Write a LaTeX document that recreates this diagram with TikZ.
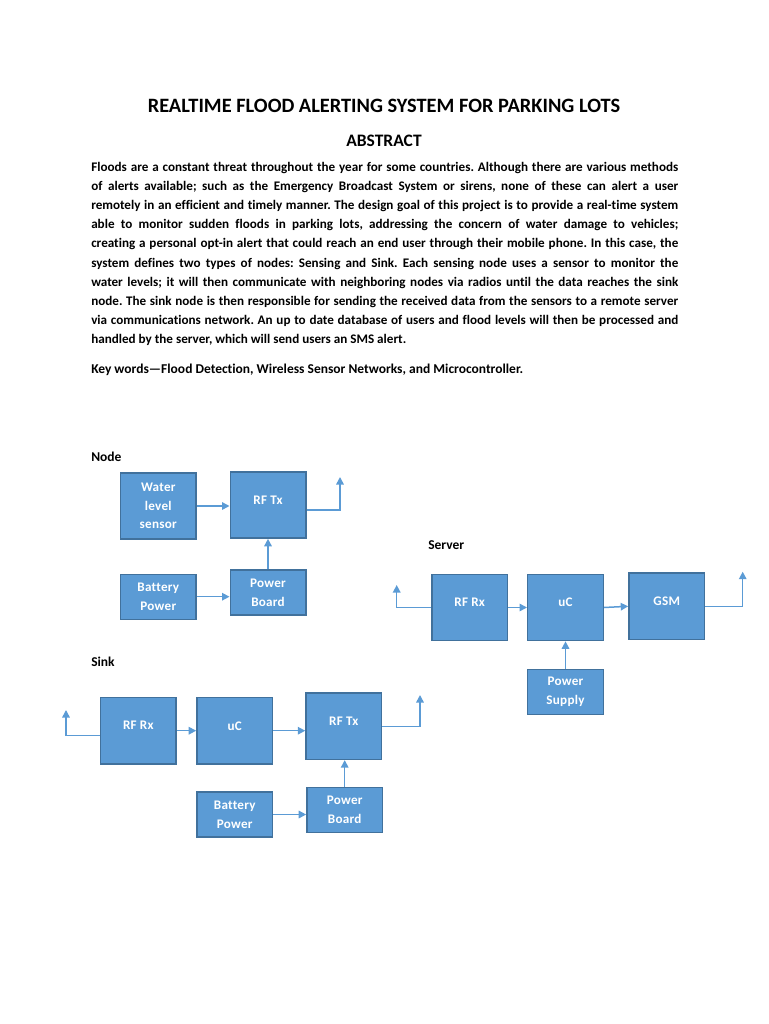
\documentclass[tikz,border=0pt]{standalone}
\usepackage{fontspec}
\setmainfont{Carlito}[Ligatures=NoCommon]
\usetikzlibrary{positioning,arrows.meta}

\definecolor{boxblue}{HTML}{5B9BD5}
\definecolor{boxedge}{HTML}{41719C}

\begin{document}
\frenchspacing
\begin{tikzpicture}[x=0.8pt, y=-0.8pt,
    block/.style={draw=boxedge, fill=boxblue, line width=1.1pt, inner sep=0pt,
        minimum width=60.5pt, text=white, align=center,
        font=\bfseries\fontsize{10.5}{15}\selectfont\addfontfeature{LetterSpace=2}},
    tallblock/.style={block, minimum height=53pt},
    flatblock/.style={block, minimum height=36pt},
    raised/.style={text depth=8pt},
    heading/.style={anchor=west, font=\bfseries\fontsize{10.8}{13}\selectfont},
    link/.style={draw=boxblue, line width=1.2pt, -{Triangle[width=6pt, length=6pt]}}
]
    \useasboundingbox (0,0) rectangle (768,1024);

    \node (title) at (384,106) {\bfseries\fontsize{16.3}{19}\selectfont REALTIME FLOOD ALERTING SYSTEM FOR PARKING LOTS};
    \node (abstract) at (384,141) {\bfseries\fontsize{14}{16}\selectfont ABSTRACT};

    \node [anchor=north west, inner sep=0pt, text width=469.6pt, align=justify,
           font=\bfseries\fontsize{10.5}{15.3}\selectfont] (body) at (91,162)
    {Floods are a constant threat throughout the year for some countries. Although there are various methods\linebreak
     of alerts available; such as the Emergency Broadcast System or sirens, none of these can alert a user\linebreak
     remotely in an efficient and timely manner. The design goal of this project is to provide a real-time system\linebreak
     able to monitor sudden floods in parking lots, addressing the concern of water damage to vehicles;\linebreak
     creating a personal opt-in alert that could reach an end user through their mobile phone. In this case, the\linebreak
     system defines two types of nodes: Sensing and Sink. Each sensing node uses a sensor to monitor the\linebreak
     water levels; it will then communicate with neighboring nodes via radios until the data reaches the sink\linebreak
     node. The sink node is then responsible for sending the received data from the sensors to a remote server\linebreak
     via communications network. An up to date database of users and flood levels will then be processed and\linebreak
     handled by the server, which will send users an SMS alert.};

    \node [heading, inner sep=0pt] (keywords) at (91,370) {Key words---Flood Detection, Wireless Sensor Networks, and Microcontroller.};

    %Node
    \node [heading, inner sep=0pt] (nodeLabel) at (91,457) {Node};
    \node [tallblock] (nodeSensor) at (158.3,506) {Water\\level\\sensor};
    \node [tallblock, raised] (nodeTx) at (268,505) {RF Tx};
    \node [flatblock] (nodeBattery) at (158.3,596.7) {Battery\\Power};
    \node [flatblock] (nodePower) at (268,592.5) {Power\\Board};
    \coordinate (nodeAntBase) at (340,510);
    \coordinate (nodeAntTop) at (340,477);

    %Server
    \node [heading, inner sep=0pt] (serverLabel) at (428,545) {Server};
    \node [tallblock, raised] (serverRx) at (469.7,607.5) {RF Rx};
    \node [tallblock, raised] (serverUc) at (565.5,607.5) {uC};
    \node [tallblock, raised] (serverGsm) at (666.7,606.3) {GSM};
    \node [flatblock] (serverSupply) at (565.5,691.8) {Power\\Supply};
    \coordinate (serverAntIn) at (396.7,585);
    \coordinate (serverAntOut) at (742.7,571.7);

    %Sink
    \node [heading, inner sep=0pt] (sinkLabel) at (91,662) {Sink};
    \node [tallblock, raised] (sinkRx) at (138.3,730.7) {RF Rx};
    \node [tallblock, raised] (sinkUc) at (234.7,730.7) {uC};
    \node [tallblock, raised] (sinkTx) at (343.8,726.3) {RF Tx};
    \node [flatblock] (sinkBattery) at (234.7,814.5) {Battery\\Power};
    \node [flatblock] (sinkPower) at (344.7,809.8) {Power\\Board};
    \coordinate (sinkAntBase) at (66,735.7);
    \coordinate (sinkAntIn) at (66,710);
    \coordinate (sinkAntOut) at (420,695);

    %Arrows
    \draw[link] (nodeSensor.east) -- (nodeSensor.east -| nodeTx.west);
    \draw[link] (nodeBattery.east) -- (nodeBattery.east -| nodePower.west);
    \draw[link] (nodePower.north) -- (nodeTx.south);
    \draw[link] (nodeAntBase -| nodeTx.east) -- (nodeAntBase) -- (nodeAntTop);

    \draw[link] (serverRx.west) -| (serverAntIn);
    \draw[link] (serverRx.east) -- (serverUc.west);
    \draw[link] (serverUc.east) -- (serverGsm.west);
    \draw[link] (serverSupply.north) -- (serverUc.south);
    \draw[link] (serverGsm.east) -| (serverAntOut);

    \draw[link] (sinkAntBase -| sinkRx.west) -- (sinkAntBase) -- (sinkAntIn);
    \draw[link] (sinkRx.east) -- (sinkUc.west);
    \draw[link] (sinkUc.east) -- (sinkUc.east -| sinkTx.west);
    \draw[link] (sinkBattery.east) -- (sinkBattery.east -| sinkPower.west);
    \draw[link] (sinkPower.north) -- (sinkPower.north |- sinkTx.south);
    \draw[link] (sinkTx.east) -| (sinkAntOut);
\end{tikzpicture}
\end{document}
